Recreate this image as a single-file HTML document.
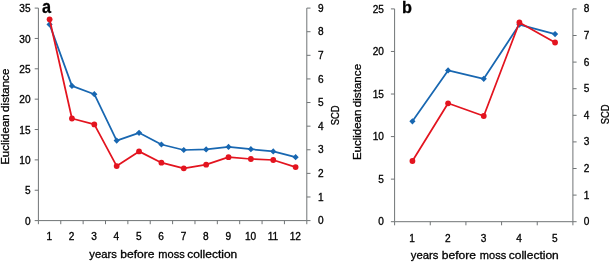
<!DOCTYPE html>
<html lang="en">
<head>
<meta charset="utf-8">
<title>Euclidean distance and SCD versus years before moss collection</title>
<style>
html,body{margin:0;padding:0;background:#fff;}
body{width:609px;height:262px;overflow:hidden;}
svg{display:block;}
text{font-family:"Liberation Sans",Arial,sans-serif;fill:#000;stroke:#000;stroke-width:0.3px;}
.tk{font-size:10.1px;}
.tt{font-size:11.3px;}
.pl{font-size:16.3px;font-weight:bold;stroke-width:0.25px;}
.ax{stroke:#707476;stroke-width:1;fill:none;}
.bl{stroke:#1867b1;stroke-width:1.75;fill:none;stroke-linejoin:round;stroke-linecap:round;}
.rl{stroke:#e3141f;stroke-width:1.75;fill:none;stroke-linejoin:round;stroke-linecap:round;}
.bm{fill:#1867b1;}
.rm{fill:#e3141f;}
</style>
</head>
<body>
<svg width="609" height="262" viewBox="0 0 609 262">
<rect x="0" y="0" width="609" height="262" fill="#ffffff"/>
<g id="chart-a">
<path class="ax" d="M38.4 8.1V220.6H306.8V8.1"/>
<path class="ax" d="M34.7 220.6H38.4M34.7 190.24H38.4M34.7 159.89H38.4M34.7 129.53H38.4M34.7 99.17H38.4M34.7 68.81H38.4M34.7 38.46H38.4M34.7 8.1H38.4M306.8 220.6H310.5M306.8 196.99H310.5M306.8 173.38H310.5M306.8 149.77H310.5M306.8 126.16H310.5M306.8 102.54H310.5M306.8 78.93H310.5M306.8 55.32H310.5M306.8 31.71H310.5M306.8 8.1H310.5M38.4 220.6V224.2M60.77 220.6V224.2M83.13 220.6V224.2M105.5 220.6V224.2M127.87 220.6V224.2M150.23 220.6V224.2M172.6 220.6V224.2M194.97 220.6V224.2M217.33 220.6V224.2M239.7 220.6V224.2M262.07 220.6V224.2M284.43 220.6V224.2M306.8 220.6V224.2"/>
<text class="tk" text-anchor="end" x="30.6" y="224.7">0</text>
<text class="tk" text-anchor="end" x="30.6" y="194.34">5</text>
<text class="tk" text-anchor="end" x="30.6" y="163.99">10</text>
<text class="tk" text-anchor="end" x="30.6" y="133.63">15</text>
<text class="tk" text-anchor="end" x="30.6" y="103.27">20</text>
<text class="tk" text-anchor="end" x="30.6" y="72.91">25</text>
<text class="tk" text-anchor="end" x="30.6" y="42.56">30</text>
<text class="tk" text-anchor="end" x="30.6" y="12.2">35</text>
<text class="tk" x="318" y="224.3">0</text>
<text class="tk" x="318" y="200.69">1</text>
<text class="tk" x="318" y="177.08">2</text>
<text class="tk" x="318" y="153.47">3</text>
<text class="tk" x="318" y="129.86">4</text>
<text class="tk" x="318" y="106.24">5</text>
<text class="tk" x="318" y="82.63">6</text>
<text class="tk" x="318" y="59.02">7</text>
<text class="tk" x="318" y="35.41">8</text>
<text class="tk" x="318" y="11.8">9</text>
<text class="tk" text-anchor="middle" x="49.28" y="240.3">1</text>
<text class="tk" text-anchor="middle" x="71.65" y="240.3">2</text>
<text class="tk" text-anchor="middle" x="94.02" y="240.3">3</text>
<text class="tk" text-anchor="middle" x="116.38" y="240.3">4</text>
<text class="tk" text-anchor="middle" x="138.75" y="240.3">5</text>
<text class="tk" text-anchor="middle" x="161.12" y="240.3">6</text>
<text class="tk" text-anchor="middle" x="183.48" y="240.3">7</text>
<text class="tk" text-anchor="middle" x="205.85" y="240.3">8</text>
<text class="tk" text-anchor="middle" x="228.22" y="240.3">9</text>
<text class="tk" text-anchor="middle" x="250.58" y="240.3">10</text>
<text class="tk" text-anchor="middle" x="272.95" y="240.3">11</text>
<text class="tk" text-anchor="middle" x="295.32" y="240.3">12</text>
<text class="tt" transform="translate(9.1 164) rotate(-90)"><tspan x="-0.8" textLength="50.5" lengthAdjust="spacingAndGlyphs">Euclidean</tspan> <tspan x="52.1" textLength="43.3" lengthAdjust="spacingAndGlyphs">distance</tspan></text>
<text class="tt" transform="translate(338.8 125.2) rotate(-90)" textLength="19.8" lengthAdjust="spacingAndGlyphs">SCD</text>
<text class="tt" y="257.6"><tspan x="89.3" textLength="27.6" lengthAdjust="spacingAndGlyphs">years</tspan> <tspan x="120.2" textLength="34.3" lengthAdjust="spacingAndGlyphs">before</tspan> <tspan x="158.3" textLength="26.4" lengthAdjust="spacingAndGlyphs">moss</tspan> <tspan x="187.3" textLength="50" lengthAdjust="spacingAndGlyphs">collection</tspan></text>
<polyline class="bl" points="49.58,24.4 71.95,85.9 94.32,94.2 116.68,140.6 139.05,132.8 161.42,144.5 183.78,150 206.15,149.4 228.52,146.9 250.88,149.2 273.25,151.4 295.62,157.2"/>
<path class="bm" d="M49.58 21.3L52.68 24.4L49.58 27.5L46.48 24.4ZM71.95 82.8L75.05 85.9L71.95 89L68.85 85.9ZM94.32 91.1L97.42 94.2L94.32 97.3L91.22 94.2ZM116.68 137.5L119.78 140.6L116.68 143.7L113.58 140.6ZM139.05 129.7L142.15 132.8L139.05 135.9L135.95 132.8ZM161.42 141.4L164.52 144.5L161.42 147.6L158.32 144.5ZM183.78 146.9L186.88 150L183.78 153.1L180.68 150ZM206.15 146.3L209.25 149.4L206.15 152.5L203.05 149.4ZM228.52 143.8L231.62 146.9L228.52 150L225.42 146.9ZM250.88 146.1L253.98 149.2L250.88 152.3L247.78 149.2ZM273.25 148.3L276.35 151.4L273.25 154.5L270.15 151.4ZM295.62 154.1L298.72 157.2L295.62 160.3L292.52 157.2Z"/>
<polyline class="rl" points="49.58,19.3 71.95,118.5 94.32,124.4 116.68,166.1 139.05,151.4 161.42,162.7 183.78,168.3 206.15,164.7 228.52,157.2 250.88,159 273.25,160 295.62,167.1"/>
<circle class="rm" cx="49.58" cy="19.3" r="2.9"/>
<circle class="rm" cx="71.95" cy="118.5" r="2.9"/>
<circle class="rm" cx="94.32" cy="124.4" r="2.9"/>
<circle class="rm" cx="116.68" cy="166.1" r="2.9"/>
<circle class="rm" cx="139.05" cy="151.4" r="2.9"/>
<circle class="rm" cx="161.42" cy="162.7" r="2.9"/>
<circle class="rm" cx="183.78" cy="168.3" r="2.9"/>
<circle class="rm" cx="206.15" cy="164.7" r="2.9"/>
<circle class="rm" cx="228.52" cy="157.2" r="2.9"/>
<circle class="rm" cx="250.88" cy="159" r="2.9"/>
<circle class="rm" cx="273.25" cy="160" r="2.9"/>
<circle class="rm" cx="295.62" cy="167.1" r="2.9"/>
<text class="pl" transform="translate(42 12.5) scale(1 1.09)">a</text>
</g>
<g id="chart-b">
<path class="ax" d="M394.6 8.9V221.7H572.9V8.9"/>
<path class="ax" d="M390.9 221.7H394.6M390.9 179.14H394.6M390.9 136.58H394.6M390.9 94.02H394.6M390.9 51.46H394.6M390.9 8.9H394.6M572.9 221.7H576.6M572.9 195.1H576.6M572.9 168.5H576.6M572.9 141.9H576.6M572.9 115.3H576.6M572.9 88.7H576.6M572.9 62.1H576.6M572.9 35.5H576.6M572.9 8.9H576.6M394.6 221.7V225.3M430.26 221.7V225.3M465.92 221.7V225.3M501.58 221.7V225.3M537.24 221.7V225.3M572.9 221.7V225.3"/>
<text class="tk" text-anchor="end" x="383.9" y="225.4">0</text>
<text class="tk" text-anchor="end" x="383.9" y="182.84">5</text>
<text class="tk" text-anchor="end" x="383.9" y="140.28">10</text>
<text class="tk" text-anchor="end" x="383.9" y="97.72">15</text>
<text class="tk" text-anchor="end" x="383.9" y="55.16">20</text>
<text class="tk" text-anchor="end" x="383.9" y="12.6">25</text>
<text class="tk" x="583.7" y="225.2">0</text>
<text class="tk" x="583.7" y="198.6">1</text>
<text class="tk" x="583.7" y="172">2</text>
<text class="tk" x="583.7" y="145.4">3</text>
<text class="tk" x="583.7" y="118.8">4</text>
<text class="tk" x="583.7" y="92.2">5</text>
<text class="tk" x="583.7" y="65.6">6</text>
<text class="tk" x="583.7" y="39">7</text>
<text class="tk" x="583.7" y="12.4">8</text>
<text class="tk" text-anchor="middle" x="412.13" y="241.6">1</text>
<text class="tk" text-anchor="middle" x="447.79" y="241.6">2</text>
<text class="tk" text-anchor="middle" x="483.45" y="241.6">3</text>
<text class="tk" text-anchor="middle" x="519.11" y="241.6">4</text>
<text class="tk" text-anchor="middle" x="554.77" y="241.6">5</text>
<text class="tt" transform="translate(361.2 159.3) rotate(-90)"><tspan x="-0.8" textLength="50.5" lengthAdjust="spacingAndGlyphs">Euclidean</tspan> <tspan x="52.1" textLength="43.3" lengthAdjust="spacingAndGlyphs">distance</tspan></text>
<text class="tt" transform="translate(608.6 124.3) rotate(-90)" textLength="19.8" lengthAdjust="spacingAndGlyphs">SCD</text>
<text class="tt" y="258.8"><tspan x="410.8" textLength="27.6" lengthAdjust="spacingAndGlyphs">years</tspan> <tspan x="441.7" textLength="34.3" lengthAdjust="spacingAndGlyphs">before</tspan> <tspan x="479.8" textLength="26.4" lengthAdjust="spacingAndGlyphs">moss</tspan> <tspan x="508.8" textLength="50" lengthAdjust="spacingAndGlyphs">collection</tspan></text>
<polyline class="bl" points="412.43,121.3 448.09,70.4 483.75,78.8 519.41,24.6 555.07,34.1"/>
<path class="bm" d="M412.43 118.2L415.53 121.3L412.43 124.4L409.33 121.3ZM448.09 67.3L451.19 70.4L448.09 73.5L444.99 70.4ZM483.75 75.7L486.85 78.8L483.75 81.9L480.65 78.8ZM519.41 21.5L522.51 24.6L519.41 27.7L516.31 24.6ZM555.07 31L558.17 34.1L555.07 37.2L551.97 34.1Z"/>
<polyline class="rl" points="412.43,161 448.09,103.3 483.75,116 519.41,22.4 555.07,42.5"/>
<circle class="rm" cx="412.43" cy="161" r="2.9"/>
<circle class="rm" cx="448.09" cy="103.3" r="2.9"/>
<circle class="rm" cx="483.75" cy="116" r="2.9"/>
<circle class="rm" cx="519.41" cy="22.4" r="2.9"/>
<circle class="rm" cx="555.07" cy="42.5" r="2.9"/>
<text class="pl" transform="translate(401.9 12.5) scale(1 1.03)">b</text>
</g>
</svg>
</body>
</html>
